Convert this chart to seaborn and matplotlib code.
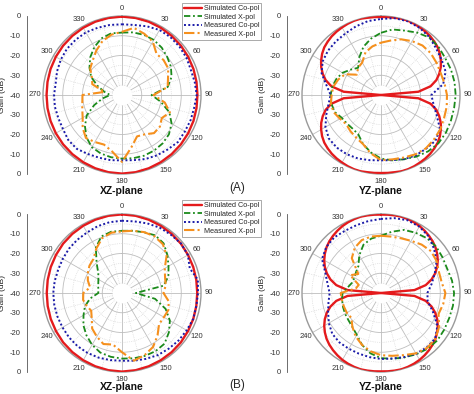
import numpy as np
import matplotlib.pyplot as plt
import seaborn as sns
from matplotlib.ticker import FixedLocator, FuncFormatter

sns.set_style("white")
plt.rcParams["font.family"] = ["Liberation Sans", "DejaVu Sans"]
plt.rcParams["axes.unicode_minus"] = False

W, H = 474, 394

# angles (deg) of the sampled patterns
ang10 = np.arange(0, 360, 10)
ang5 = np.arange(0, 360, 5)

# ---------------- (A) XZ-plane ----------------
xz_sim_co_a = [-0.3, -0.4, -0.5, -0.7, -0.9, -1.1, -1.3, -1.5, -1.7, -1.8, -1.7, -1.5,
               -1.3, -1.1, -0.9, -0.7, -0.5, -0.3, -0.2, -0.3, -0.5, -0.7, -0.9, -1.1,
               -1.3, -1.5, -1.7, -1.8, -1.7, -1.5, -1.3, -1.1, -0.9, -0.7, -0.5, -0.4]
xz_sim_x_a = [-8.4, -7.8, -7.6, -7.8, -8.7, -10.1, -11.4, -13.3, -16.5, -25, -20, -14.5,
              -11, -9, -8, -7.5, -7.3, -7.5, -7.8, -8, -8.5, -9.5, -12, -15.5,
              -19.4, -25, -30, -34, -31, -27, -22, -18.5, -15, -12, -9.5, -8.3]
xz_meas_co_a = [-4.2, -4.0, -3.0, -2.0, -1.8, -2.0, -2.3, -2.9, -2.6, -2.2, -2.9, -3.0,
                -3.2, -3.0, -4.0, -4.7, -5.5, -6.5, -6.9, -6.5, -6.2, -5.5, -4.4, -4.5,
                -5.5, -5.7, -5.5, -5.6, -5.9, -5.0, -4.2, -3.6, -3.5, -3.4, -3.8, -4.0]
xz_meas_x_a = [-8, -5.5, -7, -8.8, -12.8, -12.5, -13, -15.2, -16.5, -24, -18, -14.2,
               -16.7, -15, -14.8, -17, -17.7, -13, -6.1, -11, -13.3, -12.5, -11.6, -14,
               -17, -18.6, -19.6, -20, -31, -24, -22.4, -19, -17, -14, -11, -9]

# ---------------- (A) YZ-plane ----------------
# simulated co-pol lobe, 0..90 deg off the pole (5 deg steps)
yz_sim_co_a_lobe = [-0.5, -0.4, -0.3, 0, 0, -0.2, -0.5, -0.8, -1.2, -1.8,
                    -2.5, -3.6, -5.0, -6.6, -8.6, -11, -14.5, -21, -40]
yz_sim_x_a = [-8.5, -6.3, -5.3, -3.5, -2, -2, -2.5, -2.3, -2.2, -2.2, -2.4, -2.3,
              -2, -2, -2.8, -4, -5.4, -6.4, -7.8, -10.5, -13.5, -17, -17.7, -17.5,
              -17, -15, -14.5, -14.5, -15, -16, -17.5, -20, -22, -18, -14, -11]
yz_meas_co_a = [-1.5, -0.5, -0.3, -0.8, -1.8, -3.5, -4.5, -5.2, -8, -14.5, -13, -10,
                -5.5, -4, -4.5, -4.7, -5.5, -6.5, -6.9, -6.5, -5.8, -5.4, -5.2, -5.6,
                -7.5, -10.5, -13, -14.5, -12, -8, -5.9, -5, -4.5, -4, -3, -2]
yz_meas_x_a = [-13.5, -12, -10, -8.5, -7.3, -7.1, -7.5, -7.8, -7.3, -6.6, -6.2, -6,
               -5.3, -5, -4.7, -5.3, -6.3, -6.9, -7, -10, -13.5, -15, -16, -17,
               -16, -14.5, -14.2, -15, -15.5, -17, -19, -24, -22, -21, -17, -15]

# ---------------- (B) XZ-plane ----------------
xz_sim_co_b = [-0.2, -0.3, -0.5, -0.7, -0.9, -1.1, -1.4, -1.6, -1.8, -1.9, -1.8, -1.6,
               -1.4, -1.1, -0.9, -0.7, -0.5, -0.3, -0.2, -0.3, -0.5, -0.7, -0.9, -1.1,
               -1.4, -1.6, -1.8, -1.9, -1.8, -1.6, -1.4, -1.1, -0.9, -0.7, -0.5, -0.3]
xz_sim_x_b = [-8.5, -8, -7.3, -6.3, -7.2, -10, -12.8, -15, -18.5, -33, -23, -16.5,
              -12, -9, -6.5, -6, -6.1, -6.4, -6.8, -7.2, -7.9, -9.7, -12, -14.5,
              -17.5, -20, -23.5, -28, -27.8, -27.2, -26.2, -24.3, -20, -13.5, -9.5, -8.5]
xz_meas_co_b = [-3.4, -3.2, -2.5, -1.8, -1.5, -1.0, -1.5, -3.5, -1.0, -1.5, -1.8, -1.6,
                -2.2, -2.6, -3.2, -3.7, -4.5, -5.2, -5.7, -5.5, -5.2, -5.0, -4.9, -5.0,
                -5.2, -5.2, -5.2, -5.2, -5.4, -5.6, -5.4, -5.0, -4.8, -4.6, -4.0, -3.6]
xz_meas_x_b = [-8.8, -8.0, -7.2, -6.9, -7.8, -10.5, -15, -16.8, -17.5, -19, -16, -15,
               -15.5, -15.5, -12, -8.5, -6.5, -5.2, -10, -13.5, -12.5, -14.5, -16.5, -20,
               -22, -21, -20, -20.4, -23.6, -21.6, -20, -18.5, -17.5, -14, -10.5, -9]

# ---------------- (B) YZ-plane ----------------
yz_sim_co_b_lobe = [-0.3, -0.2, -0.1, 0, -0.2, -0.5, -0.9, -1.5, -2.2, -3.0,
                    -4.0, -5.3, -6.8, -8.6, -10.8, -13.5, -17, -23, -40]
yz_sim_x_b = [-11, -8.5, -6, -4.8, -3.8, -3.5, -4, -4.3, -3.5, -3, -3, -3.2,
              -3, -2.7, -3.2, -4.2, -5.3, -6.2, -7, -9, -12, -15.5, -17.5, -18.5,
              -19, -19.5, -20, -20.5, -23, -24.5, -24.5, -23.5, -22.2, -18, -14, -12]
yz_meas_co_b = [-2.5, -1.5, -0.8, -1.2, -2.5, -5, -7.5, -11, -14, -16.5, -16, -12,
                -7, -4.2, -4, -4.5, -5.5, -6.3, -6.6, -7, -7.3, -7.4, -7.3, -7.8,
                -9.5, -11.5, -13, -14, -12.5, -10, -5.5, -3.8, -3.2, -3.6, -3.5, -3]
yz_meas_x_b = [-11, -11, -10.5, -9.5, -8, -7, -7.5, -8.8, -8.8, -7.4, -8, -9,
               -6, -4, -3.7, -4.7, -6.5, -7.7, -8.5, -10, -12, -14.5, -17.5, -20.4,
               -20, -20, -19.9, -19.6, -27, -28, -22, -25, -17, -13.5, -11.5, -11]

labels = ["Simulated Co-pol", "Simulated X-pol", "Measured Co-pol", "Measured X-pol"]
styles = [
    dict(color="#e41a1c", lw=1.7, ls="-"),
    dict(color="#1b8a1b", lw=1.3, ls=(0, (3.5, 1.5, 1, 1.5))),
    dict(color="#1a1aa8", lw=1.4, ls=(0, (1, 1.2))),
    dict(color="#f5901e", lw=1.5, ls=(0, (5, 1.5, 1, 1.5))),
]


def full_pattern(lobe):
    # mirror the 0..90 deg lobe into a full 0..355 deg pattern
    lobe = list(lobe)
    return lobe + lobe[-2::-1] + lobe[1:] + lobe[-2:0:-1]


def draw_polar(cx, cy, traces):
    r_px = 79
    rect = [(cx - r_px) / W, 1 - (cy + r_px) / H, 2 * r_px / W, 2 * r_px / H]
    ax = fig.add_axes(rect, projection="polar")
    ax.set_theta_zero_location("N")
    ax.set_theta_direction(-1)
    for (ang, vals), st, lab in zip(traces, styles, labels):
        th = np.deg2rad(np.append(ang, 360))
        r = np.append(vals, vals[0])
        sns.lineplot(x=th, y=r, ax=ax, sort=False, estimator=None, legend=False,
                     color=st["color"], lw=st["lw"], ls=st["ls"], label=lab, zorder=3)
    # white hub where the spokes stop
    hub = np.linspace(0, 2 * np.pi, 120)
    ax.fill_between(hub, -40, -35, color="white", zorder=1.6, lw=0)
    ax.set_ylim(-40, 0)
    ax.set_yticks([-30, -20, -10])
    ax.set_yticklabels([])
    ax.yaxis.set_minor_locator(FixedLocator([-35, -25, -15, -5]))
    ax.set_thetagrids(np.arange(0, 360, 30), [str(a) for a in range(0, 360, 30)],
                      fontsize=5.5, color="#333333")
    ax.xaxis.set_minor_locator(FixedLocator(np.deg2rad(np.arange(15, 360, 30))))
    ax.grid(True, which="major", color="#bdbdbd", lw=0.6)
    ax.grid(True, which="minor", color="#d0d0d0", lw=0.5, ls=":")
    ax.tick_params(axis="x", which="major", length=0, pad=-1.5)
    ax.tick_params(which="minor", length=0)
    ax.spines["polar"].set_color("#9a9a9a")
    ax.spines["polar"].set_linewidth(1.0)
    return ax


def gain_axis(x, cy):
    gx = fig.add_axes([x / W, 1 - (cy + 79) / H, 0.5 / W, 158 / H])
    gx.set_ylim(-40, 40)
    gx.set_yticks(np.arange(-40, 41, 10))
    gx.yaxis.set_minor_locator(FixedLocator(np.arange(-35, 40, 10)))
    gx.yaxis.set_major_formatter(FuncFormatter(lambda v, p: f"{abs(v) - 40:.0f}"))
    gx.set_xticks([])
    for s in ["top", "right", "bottom"]:
        gx.spines[s].set_visible(False)
    gx.spines["left"].set_color("#555555")
    gx.spines["left"].set_linewidth(0.6)
    gx.tick_params(axis="y", which="major", length=3, width=0.6, labelsize=5.5,
                   pad=1.5, colors="#333333")
    gx.tick_params(axis="y", which="minor", length=1.5, width=0.5, color="#555555")
    gx.set_ylabel("Gain (dB)", fontsize=6, labelpad=2.5, color="#222222")
    gx.patch.set_visible(False)


fig = plt.figure(figsize=(W / 100, H / 100), dpi=100)

panels = [
    (122, 95, [(ang10, xz_sim_co_a), (ang10, xz_sim_x_a), (ang10, xz_meas_co_a), (ang10, xz_meas_x_a)]),
    (381, 95, [(ang5, full_pattern(yz_sim_co_a_lobe)), (ang10, yz_sim_x_a), (ang10, yz_meas_co_a), (ang10, yz_meas_x_a)]),
    (122, 293, [(ang10, xz_sim_co_b), (ang10, xz_sim_x_b), (ang10, xz_meas_co_b), (ang10, xz_meas_x_b)]),
    (381, 293, [(ang5, full_pattern(yz_sim_co_b_lobe)), (ang10, yz_sim_x_b), (ang10, yz_meas_co_b), (ang10, yz_meas_x_b)]),
]

axes = []
for cx, cy, tr in panels:
    axes.append(draw_polar(cx, cy, tr))
    gain_axis(cx - 95 if cx < 200 else cx - 94, cy)

for cx, cy, name in [(122, 191, "XZ-plane"), (381, 191, "YZ-plane"),
                     (122, 387, "XZ-plane"), (381, 387, "YZ-plane")]:
    fig.text(cx / W, 1 - cy / H, name, ha="center", va="center",
             fontsize=7.5, fontweight="bold", color="#111111")

fig.text(237 / W, 1 - 188 / H, "(A)", ha="center", va="center", fontsize=8.5)
fig.text(237 / W, 1 - 385 / H, "(B)", ha="center", va="center", fontsize=8.5)

for ax, top in [(axes[0], 3), (axes[2], 200)]:
    handles = ax.lines[:4]
    leg = fig.legend(handles, labels, loc="upper left",
                     bbox_to_anchor=(182 / W, 1 - top / H), fontsize=5.2,
                     frameon=True, fancybox=False, edgecolor="#888888", framealpha=1,
                     borderpad=0.3, labelspacing=0.2, handlelength=2.4,
                     handletextpad=0.3, borderaxespad=0)
    leg.get_frame().set_linewidth(0.5)

fig.savefig("out.png", dpi=100)
